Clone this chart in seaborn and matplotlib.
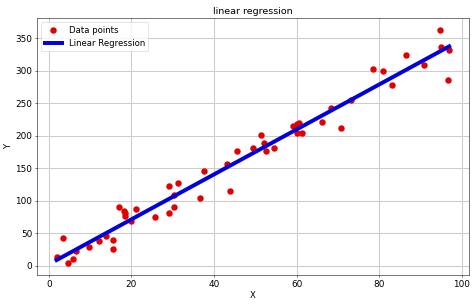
import matplotlib
matplotlib.use("Agg")
import matplotlib.pyplot as plt
import seaborn as sns
import numpy as np
import pandas as pd

# values
x_vals = [1.9, 3.4, 4.6, 5.8, 6.5, 9.7, 12.2, 13.9, 15.5, 15.5,
          17.0, 18.2, 18.4, 18.4, 20.0, 21.1, 25.8, 29.1, 29.1, 30.3,
          30.4, 31.2, 36.6, 37.5, 43.1, 43.9, 45.6, 49.4, 51.4, 52.0,
          52.5, 54.6, 59.1, 60.1, 60.6, 60.0, 61.2, 66.2, 68.3, 70.8,
          73.1, 78.4, 80.8, 83.1, 86.5, 90.8, 94.8, 95.0, 96.9, 96.5]
y_vals = [14, 42, 3.5, 11, 22.5, 28, 38.4, 45, 40, 25.6,
          90.7, 84.5, 81, 75.8, 68.7, 86.5, 74.2, 80.4, 121.9, 89.6,
          108.7, 127.6, 104.5, 146, 157.2, 114.8, 176.3, 180.9, 201, 188.5,
          177.2, 180.9, 215.2, 218, 220.3, 204, 204.4, 221.8, 242.4, 212.6,
          255, 302.8, 300.2, 277.7, 324.8, 308.4, 363.2, 337.1, 331.5, 285.4]

df = pd.DataFrame({"X": x_vals, "Y": y_vals})

# fit the regression line
slope, intercept = np.polyfit(df["X"], df["Y"], 1)
fit = pd.DataFrame({"X": [df["X"].min(), df["X"].max()]})
fit["Y"] = slope * fit["X"] + intercept

fig, ax = plt.subplots(figsize=(10, 6.435), dpi=47.4)
sns.scatterplot(data=df, x="X", y="Y", color="#e00000", s=95, linewidth=0,
                label="Data points", ax=ax, zorder=3)
sns.lineplot(data=fit, x="X", y="Y", color="#0000dd", linewidth=6,
             label="Linear Regression", ax=ax, zorder=4)

ax.set_title("linear regression", fontsize=14.5)
ax.set_xlabel("X", fontsize=13)
ax.set_ylabel("Y", fontsize=13)
ax.tick_params(labelsize=13.5)
ax.grid(True, color="#cccccc", linewidth=1.6)
ax.set_axisbelow(True)
ax.legend(loc="upper left", fontsize=13)

plt.subplots_adjust(left=0.078, right=0.989, bottom=0.098, top=0.941)
plt.savefig("out.png", dpi=47.4)
